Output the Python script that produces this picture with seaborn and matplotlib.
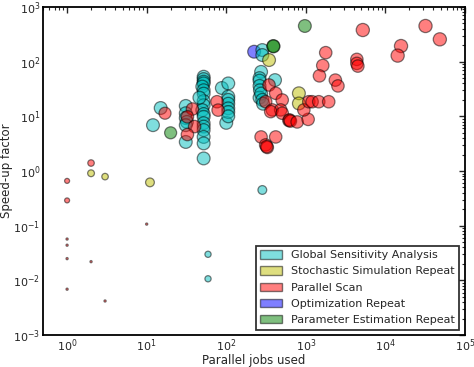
import numpy as np
import pandas as pd
import seaborn as sns
import matplotlib.pyplot as plt
from matplotlib.patches import Patch

# values (x = parallel jobs, y = speed-up, s = marker area)
gsa_x = [15, 12, 31, 31, 31, 32, 31, 31,
         52, 52, 52, 52, 50, 52, 52, 52, 52, 50, 52, 52, 52, 52, 52, 52, 52, 52, 46,
         88, 106, 106, 106, 106, 100, 106, 106, 106,
         274, 262, 262, 262, 265, 262, 274, 284, 290, 284, 284, 410,
         284, 59, 59]
gsa_y = [14.2, 6.9, 15.5, 11.4, 9.3, 7.9, 6.9, 3.4,
         53, 48, 43, 40, 35, 30, 26, 19, 16, 13, 11, 9.8, 7.5, 6.5, 5.6, 4.2, 3.2, 1.7, 22,
         33, 40, 23, 20, 17, 7.6, 14, 12, 10,
         65, 50, 45, 36, 30, 22, 26, 20, 17, 163, 132, 46,
         0.45, 0.030, 0.0107]
gsa_s = [85] * 48 + [40, 20, 20]

ssr_x = [2, 3, 11, 345, 818, 818]
ssr_y = [0.91, 0.79, 0.62, 107, 26.4, 17.2]
ssr_s = [24, 22, 40, 85, 85, 85]

scan_x = [17, 2, 1, 1, 1, 1, 1, 1, 2, 3, 10,
          37.6, 32.5, 40, 32.5, 76.5, 79,
          345, 418, 313, 505, 379, 483, 362, 505, 613, 625, 640, 778, 1069, 944, 1090,
          1199, 1454, 1939, 1778, 1632, 1483, 2350, 2533, 4375, 4375, 4505,
          5200, 15710, 14250, 31900, 48300,
          274, 418, 313, 328, 322]
scan_y = [11.4, 1.4, 0.66, 0.29, 0.057, 0.044, 0.025, 0.0069, 0.022, 0.0042, 0.107,
          13.6, 9.8, 6.5, 4.65, 18.5, 13.0,
          37.4, 26.4, 18.5, 19.9, 13.1, 13.1, 12.2, 11.4, 8.4, 8.6, 8.2, 7.9, 8.8, 13.1, 18.5,
          18.5, 18.5, 18.5, 146, 85, 55, 46, 36, 110, 93, 83,
          379, 193, 129, 449, 256,
          4.2, 4.2, 3.0, 2.7, 2.8]
scan_s = [75, 22, 13, 13, 2.5, 2.5, 2.5, 2.5, 2.5, 2.5, 2.5] + [80] * 6 + [80] * 26 + [90] * 5 + [80] * 5

opt_x = [224]
opt_y = [152]
opt_s = [85]

pe_x = [20, 972, 390, 392]
pe_y = [5.0, 449, 193, 190]
pe_s = [75, 85, 85, 85]

labels = ["Global Sensitivity Analysis", "Stochastic Simulation Repeat",
          "Parallel Scan", "Optimization Repeat", "Parameter Estimation Repeat"]
colors = ["c", "y", "r", "b", "g"]

frames = []
for lab, xs, ys, ss in [(labels[3], opt_x, opt_y, opt_s),
                        (labels[0], gsa_x, gsa_y, gsa_s),
                        (labels[1], ssr_x, ssr_y, ssr_s),
                        (labels[2], scan_x, scan_y, scan_s),
                        (labels[4], pe_x, pe_y, pe_s)]:
    frames.append(pd.DataFrame({"jobs": xs, "speedup": ys, "s": ss, "kind": lab}))
df = pd.concat(frames, ignore_index=True)

sns.set_style("white")
plt.rcParams.update({"xtick.direction": "in", "ytick.direction": "in",
                     "xtick.top": True, "ytick.right": True})

fig = plt.figure(figsize=(4.74, 3.67), dpi=100)
ax = fig.add_axes([0.091, 0.087, 0.890, 0.894])

smin, smax = df["s"].min(), df["s"].max()
sns.scatterplot(data=df, x="jobs", y="speedup", hue="kind",
                palette=dict(zip(labels, colors)), size="s",
                sizes=(smin, smax), size_norm=(smin, smax),
                alpha=0.5, edgecolor="black", linewidth=0.9,
                legend=False, ax=ax)

ax.set_xscale("log")
ax.set_yscale("log")
ax.set_xlim(0.5, 1e5)
ax.set_ylim(1e-3, 1e3)
ax.set_xlabel("Parallel jobs used", fontsize=8.5, labelpad=0)
ax.set_ylabel("Speed-up factor", fontsize=8.5, labelpad=0)
ax.tick_params(which="major", length=4, width=1, labelsize=8, pad=2)
ax.tick_params(which="minor", length=2, width=0.8)
for sp in ax.spines.values():
    sp.set_linewidth(1.3)
    sp.set_color("black")

handles = [Patch(facecolor=c, edgecolor="black", alpha=0.5, label=l)
           for c, l in zip(colors, labels)]
leg = ax.legend(handles=handles, loc="lower right", fontsize=8,
                frameon=True, fancybox=False, labelspacing=0.55,
                handleheight=0.8, borderaxespad=0.5)
leg.get_frame().set_edgecolor("black")
leg.get_frame().set_linewidth(1.3)

fig.savefig("out.png", dpi=100)
